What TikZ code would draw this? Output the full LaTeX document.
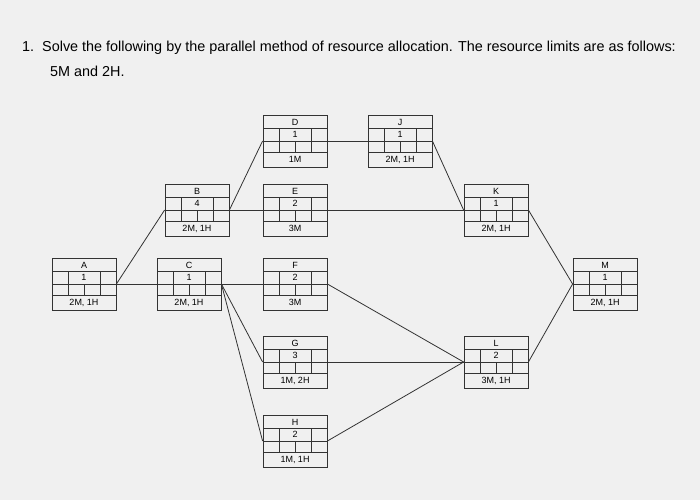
\documentclass[tikz,border=0pt]{standalone}
\usepackage{fontspec}
\setmainfont{Liberation Sans}
\begin{document}
\begin{tikzpicture}[x=1pt,y=-1pt,
  box/.style={draw=black!80,line width=0.8pt,minimum width=64pt,minimum height=52pt,inner sep=0pt},
  grid/.style={draw=black!80,line width=0.7pt},
  lnk/.style={draw=black!80,line width=0.8pt},
  small/.style={font=\fontsize{9}{10}\selectfont,inner sep=0pt}]
\fill[black!6] (0,0) rectangle (700,500);
\useasboundingbox (0,0) rectangle (700,500);
\newcommand\actnode[6]{%
  \node[box] (#1) at (#2,#3) {};
  \begin{scope}[shift={(#2-32,#3-26)}]
    \draw[grid] (0,13)--(64,13) (0,26)--(64,26) (0,37)--(64,37);
    \draw[grid] (16,13)--(16,37) (48,13)--(48,37) (32,26)--(32,37);
    \node[small] at (32,7) {#4};
    \node[small] at (32,19.5) {#5};
    \node[small] at (32,44.5) {#6};
  \end{scope}}
\actnode{A}{84}{284}{A}{1}{2M, 1H}
\actnode{B}{197}{210}{B}{4}{2M, 1H}
\actnode{C}{189}{284}{C}{1}{2M, 1H}
\actnode{D}{295}{141}{D}{1}{1M}
\actnode{E}{295}{210}{E}{2}{3M}
\actnode{F}{295}{284}{F}{2}{3M}
\actnode{G}{295}{362}{G}{3}{1M, 2H}
\actnode{H}{295}{441}{H}{2}{1M, 1H}
\actnode{J}{400}{141}{J}{1}{2M, 1H}
\actnode{K}{496}{210}{K}{1}{2M, 1H}
\actnode{L}{496}{362}{L}{2}{3M, 1H}
\actnode{M}{605}{284}{M}{1}{2M, 1H}
\draw[lnk] (A.east)--(B.west);
\draw[lnk] (A.east)--(C.west);
\draw[lnk] (B.east)--(D.west);
\draw[lnk] (B.east)--(E.west);
\draw[lnk] (C.east)--(F.west);
\draw[lnk] (C.east)--(G.west);
\draw[lnk] (C.east)--(H.west);
\draw[lnk] (D.east)--(J.west);
\draw[lnk] (J.east)--(K.west);
\draw[lnk] (E.east)--(K.west);
\draw[lnk] (F.east)--(L.west);
\draw[lnk] (G.east)--(L.west);
\draw[lnk] (H.east)--(L.west);
\draw[lnk] (K.east)--(M.west);
\draw[lnk] (L.east)--(M.west);
\node[anchor=base west,font=\fontsize{14.4}{16}\selectfont,inner sep=0pt] (t1) at (22,52) {1.\ \ Solve the following by the parallel method of resource allocation. The resource limits are as follows:};
\node[anchor=base west,font=\fontsize{14.4}{16}\selectfont,inner sep=0pt] (t2) at (50,77) {5M and 2H.};
\end{tikzpicture}
\end{document}
